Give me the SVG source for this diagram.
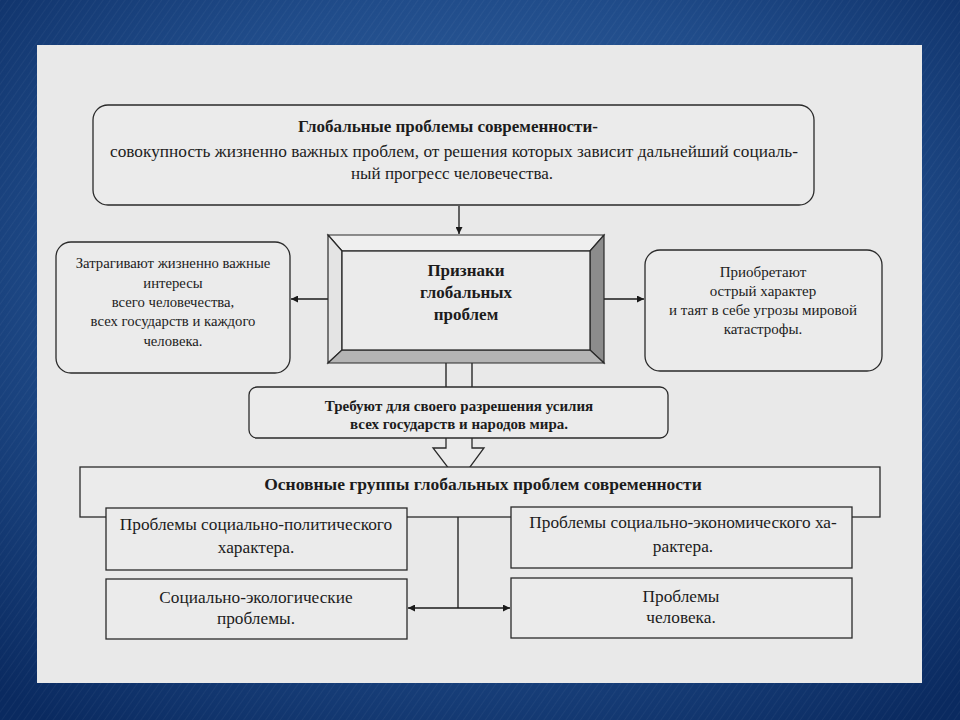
<svg xmlns="http://www.w3.org/2000/svg" width="960" height="720" viewBox="0 0 960 720">
<defs>
<radialGradient id="bg" cx="0.5" cy="0.4" r="0.75">
<stop offset="0" stop-color="#3a6aa8"/>
<stop offset="0.55" stop-color="#204c8a"/>
<stop offset="1" stop-color="#0a2a60"/>
</radialGradient>
<pattern id="hatch" width="6" height="6" patternUnits="userSpaceOnUse" patternTransform="rotate(35)">
<line x1="0" y1="0" x2="0" y2="6" stroke="#ffffff" stroke-opacity="0.05" stroke-width="1.5"/>
</pattern>
<marker id="ah" viewBox="0 0 10 10" refX="10" refY="5" markerWidth="9" markerHeight="7" markerUnits="userSpaceOnUse" orient="auto">
<path d="M0,0 L10,5 L0,10 z" fill="#1a1a1a"/>
</marker>
<style>
.box{fill:#ebebeb;stroke:#2a2a2a;stroke-width:1.3}
.t{fill:#1c1c1c;text-anchor:middle}
.b{font-weight:bold}
.ln{stroke:#1a1a1a;stroke-width:1.3;fill:none}
</style>
</defs>
<rect x="0" y="0" width="960" height="720" fill="url(#bg)"/>
<rect x="0" y="0" width="960" height="720" fill="url(#hatch)"/>
<rect x="37" y="45" width="885" height="638" fill="#e9e9e9"/>

<g id="connectors">
<line class="ln" x1="459" y1="206" x2="459" y2="234" marker-end="url(#ah)"/>
<line class="ln" x1="328" y1="299" x2="291" y2="299" marker-end="url(#ah)"/>
<line class="ln" x1="604" y1="299" x2="644" y2="299" marker-end="url(#ah)"/>
<g id="block-arrow">
<line class="ln" x1="446" y1="363" x2="446" y2="388"/>
<line class="ln" x1="472" y1="363" x2="472" y2="388"/>
<polygon points="446,437 472,437 472,448 484,448 459,482 433,448 446,448" fill="#ebebeb" stroke="#2a2a2a" stroke-width="1.3"/>
</g>
<polyline class="ln" points="458,517 458,608"/>
<line class="ln" x1="458" y1="608" x2="408" y2="608" marker-end="url(#ah)"/>
<line class="ln" x1="458" y1="608" x2="510" y2="608" marker-end="url(#ah)"/>
</g>

<g font-family="Liberation Serif, Tinos, Times New Roman, DejaVu Serif, serif">
<g id="node-definition">
<rect class="box" x="93" y="105" width="721" height="100" rx="15"/>
<text class="t b" x="448" y="132" font-size="17">Глобальные проблемы современности-</text>
<text class="t" x="454" y="157" font-size="17" textLength="688" lengthAdjust="spacingAndGlyphs">совокупность жизненно важных проблем, от решения которых зависит дальнейший социаль-</text>
<text class="t" x="452" y="179" font-size="17">ный прогресс человечества.</text>
</g>

<g id="node-signs">
<polygon points="328,235 604,235 590,251 342,251" fill="#efefef" stroke="#2a2a2a" stroke-width="1.2"/>
<polygon points="328,235 342,251 342,350 328,363" fill="#e4e4e4" stroke="#2a2a2a" stroke-width="1.2"/>
<polygon points="604,235 604,363 590,350 590,251" fill="#8c8c8c" stroke="#2a2a2a" stroke-width="1.2"/>
<polygon points="328,363 604,363 590,350 342,350" fill="#b4b4b4" stroke="#2a2a2a" stroke-width="1.2"/>
<rect x="342" y="251" width="248" height="99" fill="#ebebeb" stroke="#2a2a2a" stroke-width="1.3"/>
<text class="t b" x="466" y="276" font-size="17">Признаки</text>
<text class="t b" x="466" y="298" font-size="17">глобальных</text>
<text class="t b" x="466" y="320" font-size="17">проблем</text>
</g>

<g id="node-interests">
<rect class="box" x="56" y="242" width="234" height="131" rx="15"/>
<text class="t" x="173" y="268" font-size="14.7">Затрагивают жизненно важные</text>
<text class="t" x="173" y="288" font-size="14.7">интересы</text>
<text class="t" x="173" y="307" font-size="14.7">всего человечества,</text>
<text class="t" x="173" y="326" font-size="14.7">всех государств и каждого</text>
<text class="t" x="173" y="346" font-size="14.7">человека.</text>
</g>

<g id="node-threat">
<rect class="box" x="645" y="250" width="237" height="121" rx="15"/>
<text class="t" x="763" y="277" font-size="15">Приобретают</text>
<text class="t" x="763" y="296" font-size="15">острый характер</text>
<text class="t" x="763" y="315" font-size="15">и таят в себе угрозы мировой</text>
<text class="t" x="763" y="334" font-size="15">катастрофы.</text>
</g>

<g id="node-efforts">
<rect class="box" x="249" y="387" width="419" height="51" rx="8"/>
<text class="t b" x="459" y="411" font-size="15">Требуют для своего разрешения усилия</text>
<text class="t b" x="459" y="429" font-size="15">всех государств и народов мира.</text>
</g>

<g id="node-groups">
<rect class="box" x="80" y="467" width="800" height="50"/>
<text class="t b" x="483" y="490" font-size="17.5">Основные группы глобальных проблем современности</text>
</g>

<g id="node-political">
<rect class="box" x="106" y="508" width="301" height="62"/>
<text class="t" x="256" y="530" font-size="17.3">Проблемы социально-политического</text>
<text class="t" x="256" y="553" font-size="17.3">характера.</text>
</g>

<g id="node-economic">
<rect class="box" x="511" y="507" width="341" height="61"/>
<text class="t" x="683" y="528" font-size="17.3">Проблемы социально-экономического ха-</text>
<text class="t" x="683" y="552" font-size="17.3">рактера.</text>
</g>

<g id="node-ecological">
<rect class="box" x="106" y="579" width="301" height="60"/>
<text class="t" x="256" y="603" font-size="17.3">Социально-экологические</text>
<text class="t" x="256" y="624" font-size="17.3">проблемы.</text>
</g>

<g id="node-human">
<rect class="box" x="511" y="578" width="341" height="60"/>
<text class="t" x="681" y="602" font-size="17.3">Проблемы</text>
<text class="t" x="681" y="623" font-size="17.3">человека.</text>
</g>
</g>
</svg>
